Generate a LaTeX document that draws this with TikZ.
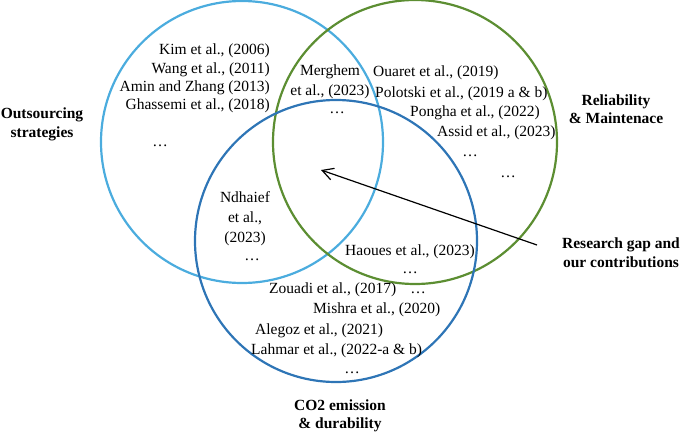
\documentclass[tikz,border=0pt]{standalone}
\usepackage{fontspec}
\setmainfont{Liberation Serif}
\usetikzlibrary{arrows.meta}
\definecolor{outblue}{RGB}{75,172,222}
\definecolor{relgreen}{RGB}{92,142,50}
\definecolor{codblue}{RGB}{46,117,182}
\begin{document}
\begin{tikzpicture}[x=1pt,y=-1pt,
  ring/.style={line width=2.2pt},
  lit/.style={inner sep=0pt,font=\fontsize{15.5}{19}\selectfont},
  head/.style={inner sep=0pt,font=\fontsize{15.5}{19}\selectfont\bfseries},
  gaparrow/.style={line width=1.2pt,-{Straight Barb[length=11pt,width=12pt,line width=1.2pt]}}]
\useasboundingbox (0,0) rectangle (685,434);
% circles
\node[ring,draw=outblue,circle,minimum size=282pt,inner sep=0pt] (out) at (242,142) {};
\node[ring,draw=relgreen,circle,minimum size=284pt,inner sep=0pt] (rel) at (415,142) {};
\node[ring,draw=codblue,circle,minimum size=282pt,inner sep=0pt] (co2) at (336,241) {};
% category labels
\node[head,anchor=base] (o1) at (42,118) {Outsourcing};
\node[head,anchor=base] (o2) at (42,137) {strategies};
\node[head,anchor=base] (r1) at (616,105) {Reliability};
\node[head,anchor=base] (r2) at (616,123) {\& Maintenace};
\node[head,anchor=base] (g1) at (621,248) {Research gap and};
\node[head,anchor=base] (g2) at (621,267) {our contributions};
\node[head,anchor=base] (c1) at (340,410) {CO2 emission};
\node[head,anchor=base] (c2) at (340,428) {\& durability};
% outsourcing only
\node[lit,anchor=base east] (a1) at (270,54) {Kim et al., (2006)};
\node[lit,anchor=base east] (a2) at (270,73) {Wang et al., (2011)};
\node[lit,anchor=base east] (a3) at (270,91) {Amin and Zhang (2013)};
\node[lit,anchor=base east] (a4) at (270,109) {Ghassemi et al., (2018)};
\node[lit,anchor=base] (a5) at (160,146) {…};
% outsourcing & reliability
\node[lit,anchor=base] (b1) at (330,75) {Merghem};
\node[lit,anchor=base] (b2) at (330,95) {et al., (2023)};
\node[lit,anchor=base] (b3) at (337,113) {…};
% reliability only
\node[lit,anchor=base west] (d1) at (373,76) {Ouaret et al., (2019)};
\node[lit,anchor=base west] (d2) at (375,97) {Polotski et al., (2019 a \& b)};
\node[lit,anchor=base west] (d3) at (410,116) {Pongha et al., (2022)};
\node[lit,anchor=base west] (d4) at (437,136) {Assid et al., (2023)};
\node[lit,anchor=base] (d5) at (470,156) {…};
\node[lit,anchor=base] (d6) at (508,177) {…};
% outsourcing & co2
\node[lit,anchor=base] (e1) at (245,202) {Ndhaief};
\node[lit,anchor=base] (e2) at (245,222) {et al.,};
\node[lit,anchor=base] (e3) at (245,242) {(2023)};
\node[lit,anchor=base] (e4) at (252,260) {…};
% reliability & co2
\node[lit,anchor=base west] (f1) at (345,255) {Haoues et al., (2023)};
\node[lit,anchor=base] (f2) at (410,273) {…};
% co2 only
\node[lit,anchor=base] (h0) at (418,293) {…};
\node[lit,anchor=base west] (h1) at (269,293) {Zouadi et al., (2017)};
\node[lit,anchor=base west] (h2) at (313,313) {Mishra et al., (2020)};
\node[lit,anchor=base west] (h3) at (255,334) {Alegoz et al., (2021)};
\node[lit,anchor=base west] (h4) at (251,354) {Lahmar et al., (2022-a \& b)};
\node[lit,anchor=base] (h5) at (352,373) {…};
% arrow
\coordinate (gaptail) at (537,245);
\coordinate (gaptip) at (321,170);
\draw[gaparrow] (gaptail) -- (gaptip);
\end{tikzpicture}
\end{document}
